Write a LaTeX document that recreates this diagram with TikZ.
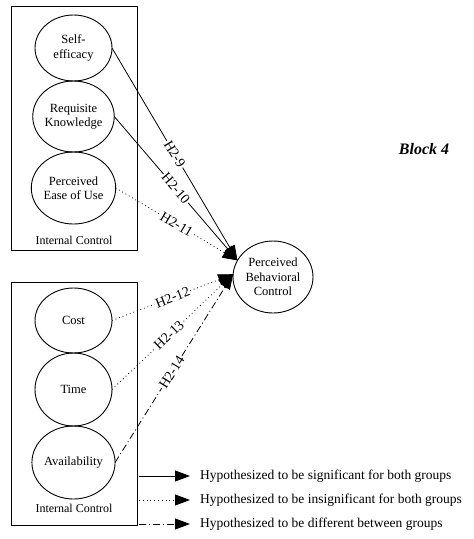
\documentclass[tikz,border=0pt]{standalone}
\usepackage{fontspec}
\setmainfont{Liberation Serif}
\usetikzlibrary{positioning, shapes.geometric, arrows.meta}

\tikzset{
  factor/.style={draw, ellipse, line width=0.9pt, minimum width=77pt, inner sep=0pt, outer sep=0pt, align=center, font=\fontsize{12.5}{14.5}\selectfont},
  groupbox/.style={draw, line width=0.9pt, minimum width=126pt, inner sep=0pt, anchor=north west},
  boxlabel/.style={font=\fontsize{12}{14}\selectfont},
  hyp/.style={-{Triangle[length=15pt,width=11pt]}, line width=0.8pt},
  hlabel/.style={sloped, fill=white, inner sep=1pt, font=\fontsize{14}{16}\selectfont},
  dotline/.style={dash pattern=on 0.8pt off 3pt},
  dashdotline/.style={dash pattern=on 7pt off 3pt on 1pt off 3pt},
  legendtext/.style={anchor=west, inner sep=0pt, font=\fontsize{13.5}{16}\selectfont}
}

\begin{document}
\begin{tikzpicture}[x=1pt, y=-1pt]
		\useasboundingbox (0,0) rectangle (474,539);
		% 两个分组方框
		\node[groupbox, minimum height=244pt] (topbox) at (11,6) {};
		\node[groupbox, minimum height=243pt] (botbox) at (11,282) {};
		\node[boxlabel] (toplbl) at (74,240) {Internal Control};
		\node[boxlabel] (botlbl) at (74,508) {Internal Control};
		% 上面一组因素
		\node[factor, minimum height=66pt] (self) at (73.5,48) {Self-\\efficacy};
		\node[factor, minimum height=71pt, below=0pt of self] (know) {Requisite\\Knowledge};
		\node[factor, minimum height=72pt, below=0pt of know] (ease) {Perceived\\Ease of Use};
		% 下面一组因素
		\node[factor, minimum height=65pt] (cost) at (73.5,320.5) {Cost};
		\node[factor, minimum height=73pt, below=0pt of cost] (time) {Time};
		\node[factor, minimum height=73pt, below=0pt of time] (avail) {Availability};
		% 结果变量
		\node[factor, minimum width=80pt, minimum height=72pt] (pbc) at (273,277) {Perceived\\Behavioral\\Control};
		\node[font=\fontsize{16}{19}\selectfont\bfseries\itshape] (block) at (424,149) {Block 4};
		% 箭头汇合点
		\coordinate (tipup) at (pbc.155);
		\coordinate (tipdown) at (pbc.176);
		% 假设路径
		\draw[hyp] (self.east) -- (tipup) node[hlabel, midway] {H2-9};
		\draw[hyp] (know.east) -- (tipup) node[hlabel, midway] {H2-10};
		\draw[hyp, dotline] (ease.east) -- (tipup) node[hlabel, midway] {H2-11};
		\draw[hyp, dotline] (cost.east) -- (tipdown) node[hlabel, midway] {H2-12};
		\draw[hyp, dotline] (time.east) -- (tipdown) node[hlabel, pos=0.47] {H2-13};
		\draw[hyp, dashdotline] (avail.east) -- (tipdown) node[hlabel, pos=0.48] {H2-14};
		% 图例
		\foreach \y/\sty/\txt [count=\i] in {476/solid/significant for both groups, 500/dotline/insignificant for both groups, 524/dashdotline/different between groups} {
				\coordinate (lgs\i) at (139,\y);
				\coordinate (lge\i) at (190,\y);
				\draw[hyp, \sty] (lgs\i) -- (lge\i);
				\node[legendtext] (lgt\i) at (200,\y) {Hypothesized to be \txt};
			}
	\end{tikzpicture}
\end{document}
